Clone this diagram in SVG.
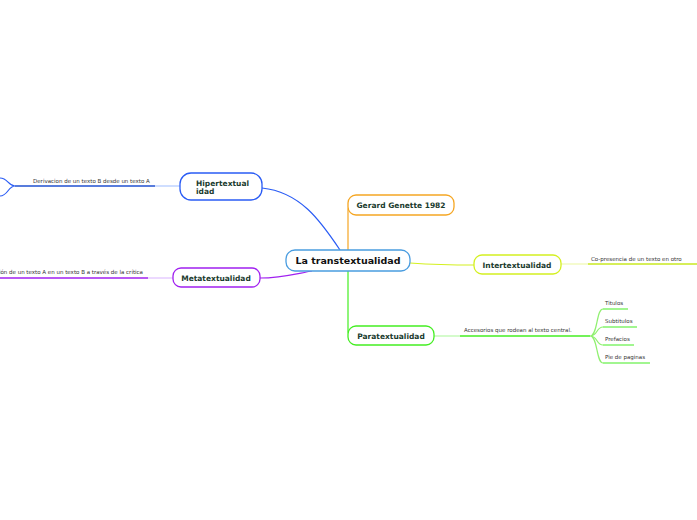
<svg xmlns="http://www.w3.org/2000/svg" width="697" height="520" viewBox="0 0 697 520">
<style>
.n{fill:#fff;stroke-width:1.3}
.t{font-family:Verdana,"DejaVu Sans",sans-serif;font-weight:bold;font-size:7.5px;fill:#1a3b2e}
.s{font-family:Verdana,"DejaVu Sans",sans-serif;font-size:5.5px;fill:#333}
.c{fill:none;stroke-width:1.2}
</style>
<rect width="697" height="520" fill="#fff"/>
<g id="connectors">
<path class="c" stroke="#f5a623" d="M348,251 V210 Q348,205 353,205"/>
<path class="c" stroke="#2a5cf5" d="M262,188 C300,192 320,220 340,250"/>
<path class="c" stroke="#a020f0" d="M260,278 C280,278 295,274 312,271"/>
<path class="c" stroke="#d4f020" d="M410,263 C440,265 450,265 474,265"/>
<path class="c" stroke="#44ee22" d="M348,271 V331 Q348,336 353,336"/>
<path class="c" stroke="#b0c8ff" d="M155,186 H180"/>
<path stroke="#2050d0" stroke-width="1.5" d="M15,186 H155"/>
<path class="c" stroke="#2a5cf5" d="M15,186 C8,186 8,178 0,178 M15,186 C8,186 8,196 0,196"/>
<path class="c" stroke="#e0c0ff" d="M148,278 H173"/>
<path stroke="#a020f0" stroke-width="1.5" d="M0,278 H148"/>
<path class="c" stroke="#eef8b0" d="M561,264 H588"/>
<path stroke="#c8e820" stroke-width="1.5" d="M588,264 H697"/>
<path class="c" stroke="#b8f8a8" d="M434,336 H460"/>
<path stroke="#44ee22" stroke-width="1.5" d="M460,336 H590"/>
<path class="c" stroke="#90f070" d="M590,336 C598,336 596,309 603,309 M590,336 C598,336 596,327 603,327 M590,336 C598,336 596,345 603,345 M590,336 C598,336 596,363 603,363"/>
<path stroke="#44ee22" stroke-width="1.2" d="M603,309 H628 M603,327 H637 M603,345 H634 M603,363 H650"/>
</g>
<g id="central"><rect class="n" x="286" y="250" width="124" height="21" rx="9" stroke="#4a9de0"/><text x="348" y="264" text-anchor="middle" class="t" style="font-size:9.5px;fill:#111">La transtextualidad</text></g>
<g id="gerard"><rect class="n" x="348" y="195" width="106" height="20" rx="8" stroke="#f5a623"/><text x="401" y="208" text-anchor="middle" class="t">Gerard Genette 1982</text></g>
<g id="hiper"><rect class="n" x="180" y="173" width="82" height="27" rx="11" stroke="#2a5cf5"/><text x="196" y="186" class="t">Hipertextual</text><text x="196" y="194" class="t">idad</text></g>
<g id="meta"><rect class="n" x="173" y="268" width="87" height="19" rx="8" stroke="#a020f0"/><text x="216" y="280.5" text-anchor="middle" class="t">Metatextualidad</text></g>
<g id="inter"><rect class="n" x="474" y="255" width="87" height="19" rx="8" stroke="#d4f020"/><text x="517" y="267.5" text-anchor="middle" class="t">Intertextualidad</text></g>
<g id="para"><rect class="n" x="348" y="326" width="86" height="19" rx="8" stroke="#44ee22"/><text x="391" y="338.5" text-anchor="middle" class="t">Paratextualidad</text></g>
<g id="labels">
<text x="33" y="183" class="s">Derivacion de un texto B desde un texto A</text>
<text x="143" y="274" text-anchor="end" class="s">Transformación de un texto A en un texto B a través de la crítica</text>
<text x="591" y="260.5" class="s">Co-presencia de un texto en otro</text>
<text x="464" y="332" class="s">Accesorios que rodean al texto central.</text>
<text x="605" y="305" class="s">Titulos</text>
<text x="605" y="323" class="s">Subtitulos</text>
<text x="605" y="341" class="s">Prefacios</text>
<text x="605" y="359" class="s">Pie de paginas</text>
</g>
</svg>
